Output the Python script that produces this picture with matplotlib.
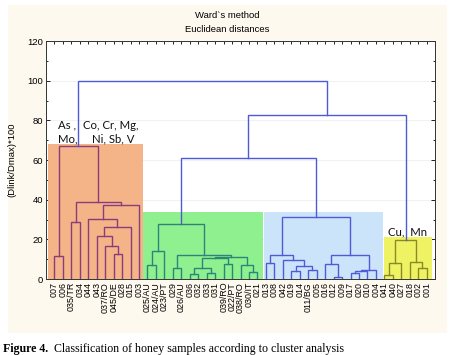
import matplotlib
matplotlib.use('Agg')
import matplotlib.pyplot as plt
from matplotlib.patches import Rectangle

# leaf labels, left to right
leaf_labels = ['007', '006', '035/TR', '034', '044', '043', '037/RO', '045/DE', '028', '015', '003',
               '025/AU', '024/AU', '023/PT', '029', '026/AU', '036', '032', '033', '031', '039/RO',
               '022/PT', '038/RO', '030/IT', '021',
               '013', '008', '042', '019', '014', '011/BG', '005', '016', '012', '009', '017',
               '020', '010', '004',
               '041', '040', '027', '018', '002', '001']

# merges: (child a, child b, height); leaves are 0..44, new nodes get 45, 46, ...
merge_a = [0, 2, 7, 6, 5, 49, 4, 51, 46, 45,
           11, 55, 14, 16, 18, 58, 20, 23, 22, 60, 64, 57, 56,
           25, 28, 30, 69, 27, 68, 33, 32, 35, 76, 77, 75, 73,
           39, 81, 43, 42, 82,
           67, 86, 54]
merge_b = [1, 3, 8, 47, 48, 9, 50, 10, 52, 53,
           12, 13, 15, 17, 19, 59, 21, 24, 62, 61, 63, 65, 66,
           26, 29, 31, 70, 71, 72, 34, 74, 36, 37, 38, 78, 79,
           40, 41, 44, 83, 84,
           80, 85, 87]
merge_h = [11.5, 29, 12.5, 16.5, 21.5, 26, 30.5, 37.5, 39, 67,
           7, 14, 5.5, 2.5, 3.2, 5.5, 7.6, 3.4, 7.1, 10.4, 11.2, 12.3, 28,
           8, 3.9, 4.7, 6.5, 9.5, 12.3, 1.2, 7.5, 3.0, 3.8, 4.7, 12, 31.5,
           2, 8.3, 5.4, 8.8, 19.8,
           61, 83, 100]
# cluster of each merge (0 orange, 1 green, 2 blue, 3 yellow, 4 top)
merge_group = [0] * 10 + [1] * 13 + [2] * 13 + [3] * 5 + [4] * 3

group_line = ['#8a3c7c', '#2a8676', '#4f5bd6', '#8a8a26', '#4f5bd6']
group_fill = ['#f4b488', '#8ff08f', '#cce4fa', '#eef263']
group_top = [68, 34, 34, 21]
group_span = [(0.2, 11.5), (11.5, 25.7), (25.8, 39.8), (39.9, 45.6)]

fig = plt.figure(figsize=(4.74, 3.55), dpi=100)
fig.patches.append(Rectangle((0.017, 0.062), 0.926, 0.924, transform=fig.transFigure,
                             facecolor='#fdf9ef', edgecolor='none', zorder=-1))
ax = fig.add_axes([0.097, 0.214, 0.821, 0.67])
ax.set_facecolor('white')

for i in range(4):
    x0, x1 = group_span[i]
    ax.add_patch(Rectangle((x0, 0), x1 - x0, group_top[i], facecolor=group_fill[i],
                           edgecolor='none', zorder=1))

n = len(leaf_labels)
xpos = {i: i + 1 for i in range(n)}
ypos = {i: 0.0 for i in range(n)}
for k in range(len(merge_h)):
    a, b, h = merge_a[k], merge_b[k], merge_h[k]
    c = group_line[merge_group[k]]
    ax.plot([xpos[a], xpos[a], xpos[b], xpos[b]], [ypos[a], h, h, ypos[b]],
            color=c, lw=1.0, zorder=3, solid_joinstyle='miter')
    xpos[n + k] = (xpos[a] + xpos[b]) / 2
    ypos[n + k] = h

ax.set_xlim(0, n + 1)
ax.set_ylim(0, 120)
ax.set_yticks(range(0, 121, 20))
ax.set_yticks(range(0, 121, 10), minor=True)
ax.set_xticks(range(1, n + 1))
ax.set_xticklabels(leaf_labels, rotation=90, fontsize=6.4, family='Liberation Sans')
for t in ax.get_yticklabels():
    t.set_fontsize(6.8)
    t.set_family('Liberation Sans')
ax.tick_params(axis='x', direction='in', top=True, length=2.5, width=0.6, pad=2)
ax.tick_params(axis='y', which='both', direction='in', right=True, width=0.6, pad=2)
ax.tick_params(axis='y', which='major', length=3)
ax.tick_params(axis='y', which='minor', length=1.5)
ax.grid(axis='y', color='#ececec', lw=0.5, zorder=0)
ax.set_axisbelow(True)
for s in ax.spines.values():
    s.set_linewidth(0.7)
    s.set_color('#333333')

ax.set_ylabel('(Dlink/Dmax)*100', fontsize=6.8, family='Liberation Sans', labelpad=8)

fig.text(0.479, 1 - 16 / 355, 'Ward`s method', ha='center', va='center',
         fontsize=6.8, family='Liberation Sans')
fig.text(0.479, 1 - 29 / 355, 'Euclidean distances', ha='center', va='center',
         fontsize=6.8, family='Liberation Sans')

ann = dict(fontsize=8.2, family='Lato', color='#111111', zorder=5)
ax.text(1.4, 77.5, 'As ,', ha='left', va='center', **ann)
ax.text(4.35, 77.5, 'Co, Cr, Mg,', ha='left', va='center', **ann)
ax.text(1.4, 70.5, 'Mo,', ha='left', va='center', **ann)
ax.text(5.4, 70.5, 'Ni, Sb, V', ha='left', va='center', **ann)
ax.text(40.4, 24, 'Cu,  Mn', ha='left', va='center', **ann)

fig.text(0.006, 1 - 352 / 355, 'Figure 4.', ha='left', va='baseline',
         fontsize=8.6, family='Liberation Serif', weight='bold')
fig.text(0.113, 1 - 352 / 355, 'Classification of honey samples according to cluster analysis',
         ha='left', va='baseline', fontsize=8.6, family='Liberation Serif')

fig.savefig('out.png', dpi=100)
